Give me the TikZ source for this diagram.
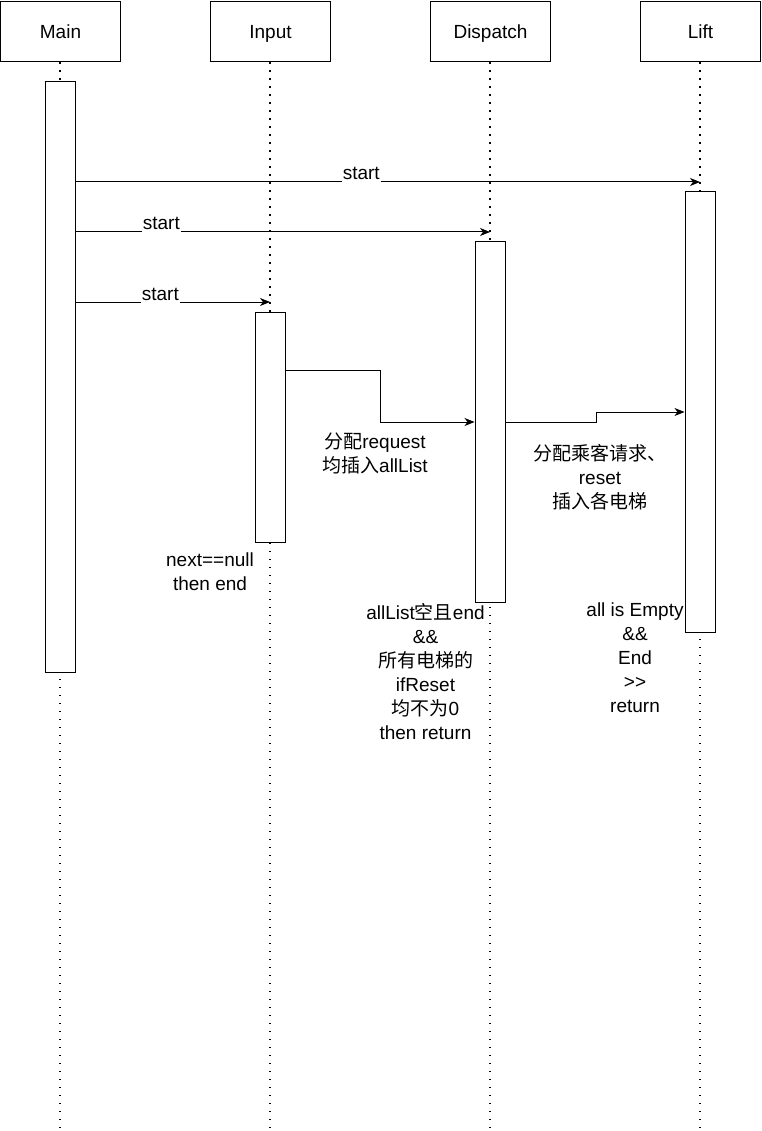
\documentclass[tikz,border=0pt]{standalone}
\usepackage{fontspec}
\setmainfont{Liberation Sans}
\newfontfamily\cjk{Noto Sans CJK SC}
\usetikzlibrary{arrows.meta}
\newcommand{\fs}{\fontsize{19}{24}\selectfont}
\tikzset{
  head/.style={draw, line width=1pt, minimum width=120pt, minimum height=60pt, inner sep=0pt, text height=14pt, text depth=0pt, font=\fs},
  act/.style={draw, fill=white, line width=1pt, minimum width=30pt, inner sep=0pt},
  life/.style={line width=1.6pt, dash pattern=on 1.6pt off 6.4pt},
  msg/.style={line width=1pt, -{Stealth[length=10pt,width=8pt,inset=3pt]}},
  lbl/.style={fill=white, font=\fs, inner xsep=1pt, inner ysep=3pt, anchor=base, yshift=2pt},
  txt/.style={align=center, font=\fs, inner sep=0pt}
}
\begin{document}
\begin{tikzpicture}[x=1pt,y=-1pt]
\useasboundingbox (0,0) rectangle (761,1131);
% headers
\node[head] (main) at (60.5,32) {Main};
\node[head] (input) at (270.5,32) {Input};
\node[head] (disp) at (490.5,32) {Dispatch};
\node[head] (lift) at (700.5,32) {Lift};
% lifeline ends
\coordinate (mainend) at (60,1131);
\coordinate (inputend) at (270,1131);
\coordinate (dispend) at (490,1131);
\coordinate (liftend) at (700,1131);
\draw[life] (main.south -| mainend) -- (mainend);
\draw[life] (input.south -| inputend) -- (inputend);
\draw[life] (disp.south -| dispend) -- (dispend);
\draw[life] (lift.south -| liftend) -- (liftend);
% activations
\node[act, minimum height=590pt] (mainact) at (60,377) {};
\node[act, minimum height=230pt] (inputact) at (270,427) {};
\node[act, minimum height=360pt] (dispact) at (490,422) {};
\node[act, minimum height=440pt] (liftact) at (700,412) {};
% message targets
\coordinate (liftin) at (700,182);
\coordinate (dispin) at (490,232);
\coordinate (inputin) at (270,302);
\draw[msg] (mainact.east |- liftin) -- node[lbl, pos=0.4576] {start} (liftin);
\draw[msg] (mainact.east |- dispin) -- node[lbl, pos=0.207] {start} (dispin);
\draw[msg] (mainact.east |- inputin) -- node[lbl, pos=0.436] {start} (inputin);
% elbow messages
\coordinate (e1a) at (285,370);
\coordinate (e1b) at (380,370);
\coordinate (e1c) at (475,422);
\draw[msg] (inputact.east |- e1a) -- (e1b) |- (dispact.west |- e1c);
\coordinate (e2a) at (505,422);
\coordinate (e2b) at (596,422);
\coordinate (e2c) at (685,412);
\draw[msg] (dispact.east |- e2a) -- (e2b) |- (liftact.west |- e2c);
% texts
\node[txt] (t1) at (375,453) {{\cjk 分配}request\\{\cjk 均插入}allList};
\node[txt] (t2) at (600,477) {{\cjk 分配乘客请求、}\\reset\\{\cjk 插入各电梯}};
\node[txt] (t3) at (210,572) {next==null\\then end};
\node[txt] (t4) at (425.5,672) {allList{\cjk 空且}end\\\&\&\\{\cjk 所有电梯的}\\ifReset\\{\cjk 均不为}0\\then return};
\node[txt] (t5) at (635,658) {all is Empty\\\&\&\\End\\>\kern0pt>\\return};
\end{tikzpicture}
\end{document}
